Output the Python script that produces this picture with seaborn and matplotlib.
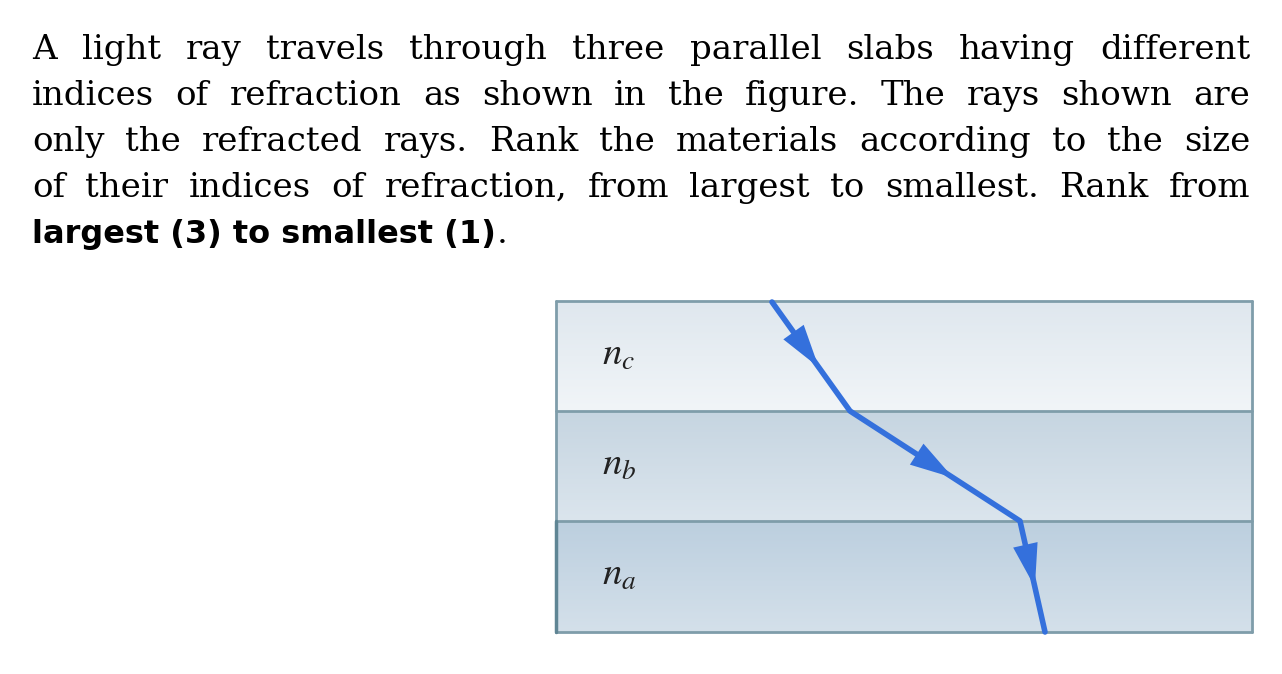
import numpy as np
import pandas as pd
import matplotlib
matplotlib.use("Agg")
import matplotlib.pyplot as plt
import seaborn as sns

# question text lines
lines = [
    "A light ray travels through three parallel slabs having different",
    "indices of refraction as shown in the figure. The rays shown are",
    "only the refracted rays. Rank the materials according to the size",
    "of their indices of refraction, from largest to smallest. Rank from",
]
bold_line = "largest (3) to smallest (1)"

# slab geometry (pixel coords) and labels
slab_left, slab_right = 556, 1252
slab_bounds = [301, 411, 521, 632]
slab_labels = [r"$n_c$", r"$n_b$", r"$n_a$"]
slab_top_colors = ["#dfe7ee", "#c6d5e1", "#bccfdf"]
slab_bot_colors = ["#f1f5f8", "#dbe5ed", "#d4e0ea"]

# ray path
ray_x = [772, 850, 1020, 1045]
ray_y = [302, 411, 521, 632]
ray = pd.DataFrame({"x": ray_x, "y": ray_y})

sns.set_theme(style="white")
fig = plt.figure(figsize=(12.82, 6.74), dpi=100)
ax = fig.add_axes([0, 0, 1, 1])
ax.set_xlim(0, 1282)
ax.set_ylim(674, 0)
ax.axis("off")
fig.canvas.draw()
renderer = fig.canvas.get_renderer()

def width_px(t):
    return t.get_window_extent(renderer).width

# justified serif lines
for l, y in zip(lines, [50, 96, 142, 188]):
    words = l.split()
    arts = [ax.text(0, y, w, fontsize=24.5, family="DejaVu Serif", va="center",
                    ha="left", color="black") for w in words]
    widths = [width_px(a) for a in arts]
    gap = (1250 - 32 - sum(widths)) / (len(words) - 1)
    x = 32
    for a, w in zip(arts, widths):
        a.set_x(x)
        x += w + gap

t = ax.text(32, 234, bold_line, fontsize=23, family="DejaVu Sans", weight="bold",
            va="center", ha="left", color="black")
ax.text(32 + width_px(t) + 1, 234, ".", fontsize=24.5, family="DejaVu Serif",
        va="center", ha="left", color="black")

for i in range(3):
    y0, y1 = slab_bounds[i], slab_bounds[i + 1]
    c0 = np.array(matplotlib.colors.to_rgb(slab_top_colors[i]))
    c1 = np.array(matplotlib.colors.to_rgb(slab_bot_colors[i]))
    grad = np.linspace(0, 1, 100)[:, None, None] * (c1 - c0) + c0
    ax.imshow(np.repeat(grad, 2, axis=1), extent=[slab_left, slab_right, y1, y0],
              aspect="auto", zorder=1)
    ax.text(602, (y0 + y1) / 2 - 2, slab_labels[i], fontsize=28, family="DejaVu Serif",
            va="center", ha="left", zorder=3, color="#222222",
            math_fontfamily="stix")

for y in slab_bounds:
    ax.plot([slab_left, slab_right], [y, y], color="#7f9daa", lw=2, zorder=2)
ax.plot([slab_left, slab_left], [slab_bounds[0], slab_bounds[-1]], color="#7f9daa", lw=2, zorder=2)
ax.plot([slab_right, slab_right], [slab_bounds[0], slab_bounds[-1]], color="#7f9daa", lw=2, zorder=2)
ax.plot([slab_left, slab_left], [slab_bounds[2], slab_bounds[3]], color="#5f8594", lw=2.5, zorder=2)

sns.lineplot(data=ray, x="x", y="y", sort=False, ax=ax, color="#3470dc", lw=4, zorder=4)
for i in range(3):
    x0, y0, x1, y1 = ray_x[i], ray_y[i], ray_x[i + 1], ray_y[i + 1]
    fs, fe = 0.3, 0.62
    ax.annotate("", xy=(x0 + fe * (x1 - x0), y0 + fe * (y1 - y0)),
                xytext=(x0 + fs * (x1 - x0), y0 + fs * (y1 - y0)),
                arrowprops=dict(arrowstyle="-|>,head_length=2.6,head_width=0.75",
                                color="#3470dc", lw=0), zorder=5)

fig.savefig("out.png", dpi=100)
